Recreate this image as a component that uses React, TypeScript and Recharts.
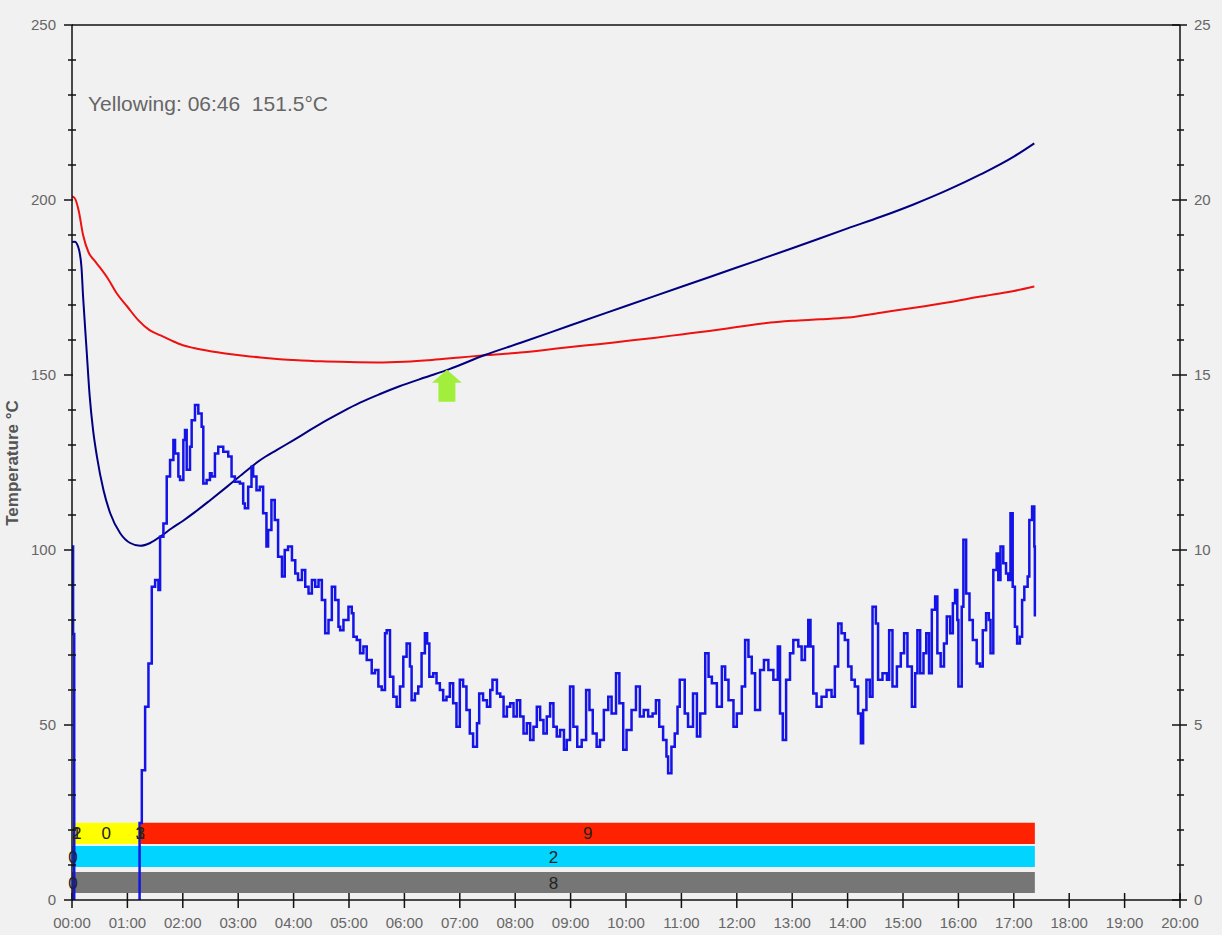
import React from 'react';
import { ComposedChart, Line, XAxis, YAxis, ReferenceArea, ReferenceDot, ReferenceLine } from 'recharts';

// roast log, time in minutes
const etPoints: [number, number][] = [
  [0, 201], [0.05, 200.5], [0.12, 197], [0.2, 190], [0.3, 185], [0.4, 182.8], [0.5, 180.8], [0.65, 177.5],
  [0.8, 173.5], [1.0, 169.5], [1.2, 165.6], [1.4, 162.8], [1.6, 161.3], [1.8, 159.8], [2.0, 158.5], [2.2, 157.7],
  [2.5, 156.8], [2.8, 156.1], [3.1, 155.5], [3.4, 155], [3.7, 154.6], [4.0, 154.3], [4.5, 153.9], [5.0, 153.7],
  [5.5, 153.6], [6.0, 153.8], [6.5, 154.3], [7.0, 155.0], [7.5, 155.7], [8.0, 156.3], [8.5, 157.1], [9.0, 158.0],
  [9.5, 158.8], [10.0, 159.7], [10.5, 160.6], [11.0, 161.6], [11.5, 162.6], [12.0, 163.7], [12.5, 164.8],
  [13.0, 165.5], [13.5, 165.9], [14.0, 166.4], [14.6, 167.8], [15.2, 169.2], [15.8, 170.7], [16.4, 172.4],
  [17.0, 174.0], [17.37, 175.3],
];

const btPoints: [number, number][] = [
  [0, 188], [0.05, 188.1], [0.11, 186.7], [0.17, 181], [0.2, 172.4], [0.26, 158], [0.32, 143.8], [0.38, 134.3],
  [0.45, 126.7], [0.57, 117], [0.69, 110.5], [0.87, 104.8], [1.05, 102], [1.23, 101.2], [1.41, 102], [1.59, 103.8],
  [1.8, 106.2], [2.0, 108.3], [2.2, 110.6], [2.5, 114.3], [2.8, 118.1], [3.1, 122], [3.4, 125.7], [3.7, 128.6],
  [4.0, 131.4], [4.3, 134.3], [4.6, 137.1], [4.9, 139.7], [5.2, 142.1], [5.55, 144.5], [5.9, 146.7], [6.35, 149.2],
  [6.8, 151.6], [7.45, 155.7], [8.1, 159.2], [9.0, 164.2], [10.0, 169.7], [11.0, 175.2], [12.0, 180.7],
  [13.0, 186.2], [14.0, 191.9], [14.6, 195.2], [15.2, 198.8], [15.8, 202.8], [16.4, 207.3], [17.0, 212.4],
  [17.37, 216.2],
];

// rate of rise, right axis; null = off the bottom of the chart
const rorPoints: [number, number | null][] = [
  [0, 10.1], [0.02, 7.6], [0.04, -1], [0.5, null], [1.18, -1], [1.22, 2.2],
  [1.26, 3.71], [1.32, 5.52], [1.38, 6.76], [1.44, 8.95], [1.5, 9.14], [1.56, 8.86], [1.59, 10.38], [1.65, 10.76],
  [1.71, 12.1], [1.77, 12.57], [1.83, 13.14], [1.86, 12.76], [1.92, 12.1], [1.95, 12.0], [2.01, 13.14], [2.04, 13.43],
  [2.07, 12.29], [2.13, 12.95], [2.16, 13.71], [2.22, 14.14], [2.28, 13.9], [2.34, 13.52], [2.37, 11.9], [2.43, 12.0],
  [2.49, 12.19], [2.52, 12.1], [2.58, 12.76], [2.64, 12.95], [2.73, 12.81], [2.82, 12.67], [2.88, 12.1], [2.94, 11.95],
  [3.03, 11.9], [3.09, 11.33], [3.12, 11.19], [3.18, 11.81], [3.24, 12.38], [3.27, 12.1], [3.33, 11.71], [3.39, 11.81],
  [3.45, 11.05], [3.51, 10.1], [3.54, 10.57], [3.6, 11.43], [3.66, 10.86], [3.72, 9.81], [3.79, 9.24], [3.84, 10.0],
  [3.9, 10.1], [3.97, 9.71], [4.03, 9.33], [4.08, 9.14], [4.15, 9.43], [4.21, 8.95], [4.27, 8.76], [4.33, 9.14],
  [4.39, 8.95], [4.45, 9.14], [4.51, 8.57], [4.57, 7.62], [4.63, 8.0], [4.69, 8.95], [4.75, 8.57], [4.81, 7.81],
  [4.84, 7.71], [4.9, 8.0], [4.99, 8.38], [5.05, 8.19], [5.08, 7.52], [5.14, 7.43], [5.2, 7.05], [5.26, 7.24],
  [5.32, 6.86], [5.41, 6.48], [5.47, 6.57], [5.53, 6.1], [5.59, 6.0], [5.65, 7.62], [5.68, 7.71], [5.74, 6.38],
  [5.8, 5.81], [5.86, 5.52], [5.92, 6.1], [5.98, 6.95], [6.04, 7.33], [6.1, 6.67], [6.13, 5.71], [6.19, 5.9],
  [6.25, 6.1], [6.31, 7.05], [6.37, 7.62], [6.41, 7.33], [6.45, 6.38], [6.52, 6.48], [6.58, 6.19], [6.64, 6.0],
  [6.7, 5.71], [6.76, 5.81], [6.82, 6.19], [6.88, 5.62], [6.94, 4.95], [7.0, 6.29], [7.06, 6.1], [7.12, 5.43],
  [7.18, 4.76], [7.24, 4.38], [7.31, 5.05], [7.35, 5.9], [7.42, 5.71], [7.49, 5.52], [7.55, 6.0], [7.59, 6.29],
  [7.67, 5.9], [7.73, 5.81], [7.79, 5.24], [7.85, 5.52], [7.91, 5.62], [7.97, 5.24], [8.03, 5.71], [8.09, 5.24],
  [8.15, 4.76], [8.21, 5.05], [8.27, 4.57], [8.33, 4.95], [8.39, 5.52], [8.45, 5.14], [8.51, 4.76], [8.57, 5.24],
  [8.63, 5.62], [8.69, 4.95], [8.75, 4.67], [8.81, 4.86], [8.88, 4.29], [8.93, 4.57], [8.99, 6.1], [9.05, 4.95],
  [9.12, 4.38], [9.2, 4.57], [9.28, 6.0], [9.34, 5.43], [9.4, 4.76], [9.47, 4.38], [9.53, 4.57], [9.6, 5.43],
  [9.68, 5.81], [9.74, 5.33], [9.82, 6.48], [9.88, 5.62], [9.95, 4.29], [10.01, 4.86], [10.1, 5.43], [10.18, 6.1],
  [10.25, 5.24], [10.32, 5.43], [10.4, 5.24], [10.48, 5.33], [10.54, 5.71], [10.6, 4.95], [10.67, 4.57], [10.73, 4.1],
  [10.76, 3.62], [10.82, 4.38], [10.88, 4.76], [10.93, 5.52],
  [10.97, 6.29], [11.06, 5.33], [11.12, 4.95], [11.21, 5.9], [11.28, 4.67], [11.34, 5.33], [11.43, 7.05], [11.49, 6.38],
  [11.55, 6.19], [11.64, 5.52], [11.73, 6.67], [11.79, 6.29], [11.85, 5.71], [11.94, 4.95], [12.0, 5.33], [12.09, 6.1],
  [12.15, 7.43], [12.21, 6.95], [12.27, 6.48], [12.33, 5.43], [12.42, 6.57], [12.49, 6.86], [12.57, 6.57], [12.66, 6.29],
  [12.74, 7.24], [12.78, 5.33], [12.83, 4.57], [12.89, 6.29], [12.96, 7.05], [13.02, 7.43], [13.11, 7.24], [13.17, 6.86],
  [13.23, 7.24], [13.29, 8.0], [13.33, 7.24], [13.38, 5.9], [13.44, 5.52], [13.53, 5.81], [13.62, 6.0], [13.71, 5.81],
  [13.77, 6.67], [13.83, 7.9], [13.89, 7.62], [13.95, 7.43], [14.01, 6.67], [14.07, 6.29], [14.13, 6.1], [14.19, 5.33],
  [14.24, 4.48], [14.28, 5.43], [14.34, 6.29], [14.4, 5.81], [14.45, 8.38], [14.51, 7.9], [14.55, 6.29], [14.63, 6.48],
  [14.71, 6.29], [14.75, 7.71], [14.81, 6.1], [14.89, 6.67], [14.96, 7.05], [15.02, 7.62], [15.08, 6.67], [15.16, 5.52],
  [15.22, 6.48], [15.26, 7.71], [15.31, 6.48], [15.37, 7.05], [15.42, 7.62], [15.47, 6.48], [15.52, 8.29], [15.58, 8.67],
  [15.62, 7.05], [15.68, 6.67], [15.74, 7.33], [15.79, 8.1], [15.85, 7.62], [15.9, 8.48], [15.94, 8.86], [15.98, 8.0],
  [16.0, 6.1], [16.06, 8.38], [16.09, 10.29], [16.14, 8.76], [16.2, 8.0], [16.26, 7.43], [16.33, 6.76], [16.39, 6.67],
  [16.44, 7.71], [16.5, 8.19], [16.55, 8.0], [16.58, 7.05], [16.63, 9.43], [16.69, 9.9], [16.72, 9.14], [16.76, 10.1],
  [16.81, 9.62], [16.86, 9.33], [16.9, 9.14], [16.94, 11.05], [16.98, 8.95], [17.02, 7.81], [17.06, 7.33], [17.11, 7.52],
  [17.15, 8.57], [17.19, 8.95], [17.25, 9.24], [17.28, 10.86], [17.33, 11.24], [17.37, 10.1], [17.38, 8.1],
];

const timeTicks = [0, 1, 2, 3, 4, 5, 6, 7, 8, 9, 10, 11, 12, 13, 14, 15, 16, 17, 18, 19, 20];
const tempTicks = [0, 10, 20, 30, 40, 50, 60, 70, 80, 90, 100, 110, 120, 130, 140, 150, 160, 170, 180, 190, 200, 210, 220, 230, 240, 250];
const rorTicks = [0, 1, 2, 3, 4, 5, 6, 7, 8, 9, 10, 11, 12, 13, 14, 15, 16, 17, 18, 19, 20, 21, 22, 23, 24, 25];

const yellowingTime = 6.767;
const yellowingTemp = 151.5;
const yellowingText = 'Yellowing: 06:46  151.5°C';

// control lanes at the bottom: heat, fan, drum
const heatEvents = [
  { start: 0, end: 1.24, value: '0', color: '#ffff00' },
  { start: 1.24, end: 17.38, value: '9', color: '#ff2200' },
];
const fanEvents = [{ start: 0, end: 17.38, value: '2', color: '#00d4ff' }];
const drumEvents = [{ start: 0, end: 17.38, value: '8', color: '#767676' }];
const eventMarks = [
  { time: 0.085, lane: 0, text: '1' },
  { time: 0.085, lane: 0, text: '2' },
  { time: 1.23, lane: 0, text: '1' },
  { time: 1.23, lane: 0, text: '3' },
  { time: 0.02, lane: 1, text: '0' },
  { time: 0.02, lane: 2, text: '0' },
];

const LANES: [number, number][] = [[16, 22.1], [9.4, 15.4], [2, 8]];
const FONT = '"Liberation Sans", Arial, sans-serif';
const AXIS = '#111';
const BG = '#f1f1f1';

const etData = etPoints.map(([t, v]) => ({ t, et: v }));
const btData = btPoints.map(([t, v]) => ({ t, bt: v }));
const rorData = rorPoints.map(([t, v]) => ({ t, ror: v }));

const pad = (n: number) => (n < 10 ? '0' + n : String(n));

const XTick = (props: any) => {
  const { x, y, payload } = props;
  return (
    <g>
      <line x1={x} x2={x} y1={y - 7} y2={y + 8} stroke={AXIS} strokeWidth={1.5} />
      <text x={x} y={y + 28} textAnchor="middle" fontSize={15} fill="#666" fontFamily={FONT}>
        {pad(payload.value) + ':00'}
      </text>
    </g>
  );
};

const LeftTick = (props: any) => {
  const { x, y, payload } = props;
  const major = payload.value % 50 === 0;
  return (
    <g>
      <line x1={major ? x - 8 : x - 4} x2={major ? x + 1 : x + 4} y1={y} y2={y} stroke={AXIS} strokeWidth={1.5} />
      {major && (
        <text x={x - 16} y={y + 5} textAnchor="end" fontSize={15} fill="#666" fontFamily={FONT}>
          {payload.value}
        </text>
      )}
    </g>
  );
};

const RightTick = (props: any) => {
  const { x, y, payload } = props;
  const major = payload.value % 5 === 0;
  return (
    <g>
      <line x1={major ? x - 8 : x - 3} x2={major ? x + 7 : x + 4} y1={y} y2={y} stroke={AXIS} strokeWidth={1.5} />
      {major && (
        <text x={x + 14} y={y + 5} textAnchor="start" fontSize={15} fill="#666" fontFamily={FONT}>
          {payload.value}
        </text>
      )}
    </g>
  );
};

const Arrow = (props: any) => {
  const { cx, cy } = props;
  const pts = [
    [0, 0], [15, 13], [8.5, 13], [8.5, 32], [-8.5, 32], [-8.5, 13], [-15, 13],
  ].map(([dx, dy]) => `${cx + dx},${cy + dy}`).join(' ');
  return <polygon points={pts} fill="#a2ee3c" />;
};

const laneArea = (lane: number, ev: { start: number; end: number; value: string; color: string }, key: string) => (
  <ReferenceArea
    key={key}
    yAxisId="left"
    x1={ev.start}
    x2={ev.end}
    y1={LANES[lane][0]}
    y2={LANES[lane][1]}
    fill={ev.color}
    fillOpacity={1}
    stroke="none"
    ifOverflow="visible"
    label={{ value: ev.value, position: 'center', fill: '#222', fontSize: 17, fontFamily: FONT }}
  />
);

export default function App() {
  return (
    <div style={{ position: 'absolute', left: 0, top: 0, width: 1222, height: 935, background: BG, overflow: 'hidden' }}>
      <ComposedChart width={1222} height={935} margin={{ top: 25, right: 0, bottom: 0, left: 0 }}>
        <XAxis
          dataKey="t"
          type="number"
          domain={[0, 20]}
          ticks={timeTicks}
          interval={0}
          height={35}
          tickSize={0}
          tickMargin={0}
          tickLine={false}
          axisLine={{ stroke: AXIS, strokeWidth: 1.5 }}
          tick={<XTick />}
          allowDataOverflow
        />
        <YAxis
          yAxisId="left"
          orientation="left"
          type="number"
          domain={[0, 250]}
          ticks={tempTicks}
          interval={0}
          width={72}
          tickSize={0}
          tickMargin={0}
          tickLine={false}
          axisLine={{ stroke: AXIS, strokeWidth: 1.5 }}
          tick={<LeftTick />}
        />
        <YAxis
          yAxisId="right"
          orientation="right"
          type="number"
          domain={[0, 25]}
          ticks={rorTicks}
          interval={0}
          width={42}
          tickSize={0}
          tickMargin={0}
          tickLine={false}
          axisLine={{ stroke: AXIS, strokeWidth: 1.5 }}
          tick={<RightTick />}
          allowDataOverflow
        />
        <ReferenceLine yAxisId="left" y={250} stroke={AXIS} strokeWidth={1.5} />

        {heatEvents.map((ev, i) => laneArea(0, ev, 'h' + i))}
        {fanEvents.map((ev, i) => laneArea(1, ev, 'f' + i))}
        {drumEvents.map((ev, i) => laneArea(2, ev, 'd' + i))}
        {eventMarks.map((m, i) => (
          <ReferenceDot
            key={'m' + i}
            yAxisId="left"
            x={m.time}
            y={(LANES[m.lane][0] + LANES[m.lane][1]) / 2}
            r={1}
            ifOverflow="visible"
            shape={(p: any) => (
              <text x={p.cx} y={p.cy + 6} textAnchor="middle" fontSize={17} fill="#222" fontFamily={FONT}>
                {m.text}
              </text>
            )}
          />
        ))}

        <Line data={etData} yAxisId="left" dataKey="et" type="monotone" stroke="#ee1111" strokeWidth={2}
          dot={false} activeDot={false} isAnimationActive={false} />
        <Line data={btData} yAxisId="left" dataKey="bt" type="monotone" stroke="#000080" strokeWidth={2}
          dot={false} activeDot={false} isAnimationActive={false} />
        <Line data={rorData} yAxisId="right" dataKey="ror" type="stepAfter" stroke="#1414e6" strokeWidth={2.5}
          dot={false} activeDot={false} isAnimationActive={false} connectNulls={false} />

        <ReferenceDot yAxisId="left" x={yellowingTime} y={yellowingTemp} r={1} shape={<Arrow />} />
      </ComposedChart>
      <svg width={1222} height={935} style={{ position: 'absolute', left: 0, top: 0, pointerEvents: 'none' }}>
        <text x={88} y={111} fontSize={21} fill="#666" fontFamily={FONT} style={{ whiteSpace: 'pre' }}>
          {yellowingText}
        </text>
        <text
          x={12}
          y={463}
          transform="rotate(-90 12 463)"
          textAnchor="middle"
          dominantBaseline="central"
          fontSize={17}
          fontWeight="bold"
          fill="#555"
          fontFamily={FONT}
        >
          Temperature °C
        </text>
      </svg>
    </div>
  );
}
